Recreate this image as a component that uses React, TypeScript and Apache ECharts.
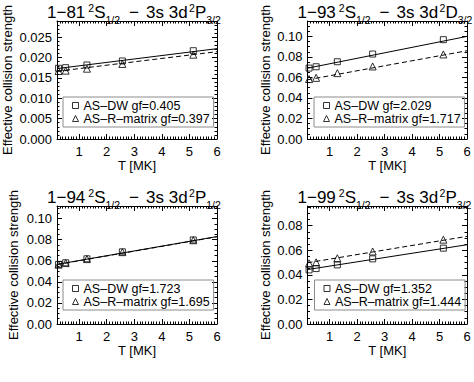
import React, { useEffect, useRef } from "react";
import * as echarts from "echarts";

// ---------- data ----------
const temps = [0.257, 0.514, 1.285, 2.57, 5.14]; // T [MK]
const fitT = [0.2, 6];
const xTicks = [1, 2, 3, 4, 5, 6];

const transitions = ["1−81", "1−93", "1−94", "1−99"];
const upperTerm = ["P", "D", "P", "P"];
const upperJ = ["3/2", "3/2", "1/2", "3/2"];

const dwGf = ["0.405", "2.029", "1.723", "1.352"];
const rmGf = ["0.397", "1.717", "1.695", "1.444"];

const dw81 = [0.01738, 0.01753, 0.01819, 0.01917, 0.0217];
const rm81 = [0.01672, 0.0168, 0.01728, 0.01844, 0.02072];
const dw93 = [0.0691, 0.0704, 0.0753, 0.0828, 0.0968];
const rm93 = [0.0584, 0.0596, 0.0642, 0.0707, 0.0824];
const dw94 = [0.0566, 0.0581, 0.0619, 0.0685, 0.0798];
const rm94 = [0.0563, 0.0578, 0.0616, 0.0682, 0.0795];
const dw99 = [0.044, 0.0451, 0.0481, 0.053, 0.0617];
const rm99 = [0.0494, 0.0502, 0.0535, 0.059, 0.0686];

const dwFit81 = [0.0173, 0.0222];
const rmFit81 = [0.01664, 0.02146];
const dwFit93 = [0.069, 0.1];
const rmFit93 = [0.0577, 0.086];
const dwFit94 = [0.0566, 0.083];
const rmFit94 = [0.0564, 0.0828];
const dwFit99 = [0.0443, 0.0645];
const rmFit99 = [0.0498, 0.0713];

const yTicks81 = [0, 0.005, 0.01, 0.015, 0.02, 0.025];
const yTicks93 = [0, 0.02, 0.04, 0.06, 0.08, 0.1];
const yTicks94 = [0, 0.02, 0.04, 0.06, 0.08, 0.1];
const yTicks99 = [0, 0.02, 0.04, 0.06, 0.08];

const yMax = [0.029, 0.115, 0.112, 0.096];
const yMinor = [0.001, 0.005, 0.005, 0.005];
const yDecimals = [3, 2, 2, 2];

const dwData = [dw81, dw93, dw94, dw99];
const rmData = [rm81, rm93, rm94, rm99];
const dwFits = [dwFit81, dwFit93, dwFit94, dwFit99];
const rmFits = [rmFit81, rmFit93, rmFit94, rmFit99];
const yTickSets = [yTicks81, yTicks93, yTicks94, yTicks99];

// ---------- layout ----------
const FONT = "Liberation Sans";
const GRIDS = [
  { left: 57, top: 21, width: 160, height: 118 },
  { left: 307.5, top: 21, width: 159.5, height: 118 },
  { left: 57, top: 206, width: 160, height: 118 },
  { left: 307.5, top: 206, width: 159.5, height: 118 },
];
const yNameGap = [43, 36, 37, 36];
const legendPos = [
  { left: 63, top: 97 },
  { left: 314, top: 97 },
  { left: 63, top: 280 },
  { left: 314.5, top: 280 },
];

const hollow = { color: "rgba(0,0,0,0)", borderColor: "#000", borderWidth: 1 };

function makeMeasurer() {
  const canvas = document.createElement("canvas");
  const ctx = canvas.getContext("2d");
  return (text: string, size: number) => {
    if (!ctx) return text.length * size * 0.55;
    ctx.font = `${size}px "${FONT}"`;
    return ctx.measureText(text).width;
  };
}

function buildTitle(i: number, measure: (t: string, s: number) => number) {
  const g = GRIDS[i];
  const cy = g.top - 8.8; // vertical centre of the main title line
  const MAIN = 17;
  const SMALL = 10.5;
  const parts: { t?: string; size?: number; dy?: number; gap?: number }[] = [
    { t: transitions[i], size: MAIN, dy: 0 },
    { gap: 3 },
    { t: "2", size: SMALL, dy: -4 },
    { t: "S", size: MAIN, dy: 0 },
    { t: "1/2", size: SMALL, dy: 8 },
    { gap: 9 },
    { t: "−", size: MAIN, dy: 0 },
    { gap: 7 },
    { t: "3s 3d", size: MAIN, dy: 0 },
    { gap: 1.5 },
    { t: "2", size: SMALL, dy: -4 },
    { t: upperTerm[i], size: MAIN, dy: 0 },
    { t: upperJ[i], size: SMALL, dy: 8 },
  ];
  let x = g.left - 10;
  const out: any[] = [];
  parts.forEach((p) => {
    if (p.gap !== undefined) {
      x += p.gap;
      return;
    }
    const w = measure(p.t as string, p.size as number);
    out.push({
      type: "text",
      x,
      y: cy + (p.dy as number),
      silent: true,
      style: {
        text: p.t,
        fill: "#000",
        fontSize: p.size,
        fontFamily: FONT,
        align: "left",
        verticalAlign: "middle",
      },
    });
    x += w;
  });
  return out;
}

function buildOption() {
  const measure = makeMeasurer();
  const xAxis: any[] = [];
  const yAxis: any[] = [];
  const series: any[] = [];
  const legend: any[] = [];
  const graphic: any[] = [];

  GRIDS.forEach((g, i) => {
    const line = { color: "#000", width: 1 };
    const xBase = { gridIndex: i, type: "value", min: 0.2, max: 6, splitLine: { show: false } };
    xAxis.push({
      ...xBase,
      position: "bottom",
      axisLine: { show: true, onZero: false, lineStyle: line },
      axisTick: { show: true, inside: true, length: 5, customValues: xTicks, lineStyle: line },
      axisLabel: { show: true, customValues: xTicks, color: "#000", fontSize: 13, fontFamily: FONT, margin: 6 },
      name: "T [MK]",
      nameLocation: "middle",
      nameGap: 20,
      nameTextStyle: { color: "#000", fontSize: 13, fontFamily: FONT },
    });
    xAxis.push({
      ...xBase,
      position: "bottom",
      interval: 0.1,
      axisLine: { show: false, onZero: false },
      axisTick: { show: true, inside: true, length: 2.5, lineStyle: line },
      axisLabel: { show: false },
    });
    xAxis.push({
      ...xBase,
      position: "top",
      axisLine: { show: true, onZero: false, lineStyle: line },
      axisTick: { show: true, inside: true, length: 5, customValues: xTicks, lineStyle: line },
      axisLabel: { show: false },
    });
    xAxis.push({
      ...xBase,
      position: "top",
      interval: 0.1,
      axisLine: { show: false, onZero: false },
      axisTick: { show: true, inside: true, length: 2.5, lineStyle: line },
      axisLabel: { show: false },
    });

    const ticks = yTickSets[i];
    const yBase = { gridIndex: i, type: "value", min: 0, max: yMax[i], splitLine: { show: false } };
    yAxis.push({
      ...yBase,
      position: "left",
      axisLine: { show: true, onZero: false, lineStyle: line },
      axisTick: { show: true, inside: true, length: 5, customValues: ticks, lineStyle: line },
      axisLabel: {
        show: true,
        customValues: ticks,
        color: "#000",
        fontSize: 13,
        fontFamily: FONT,
        margin: 5,
        formatter: (v: number) => v.toFixed(yDecimals[i]),
      },
      name: "Effective collision strength",
      nameLocation: "middle",
      nameGap: yNameGap[i],
      nameTextStyle: { color: "#000", fontSize: 13, fontFamily: FONT },
    });
    yAxis.push({
      ...yBase,
      position: "left",
      interval: yMinor[i],
      axisLine: { show: false, onZero: false },
      axisTick: { show: true, inside: true, length: 2.5, lineStyle: line },
      axisLabel: { show: false },
    });
    yAxis.push({
      ...yBase,
      position: "right",
      axisLine: { show: true, onZero: false, lineStyle: line },
      axisTick: { show: true, inside: true, length: 5, customValues: ticks, lineStyle: line },
      axisLabel: { show: false },
    });
    yAxis.push({
      ...yBase,
      position: "right",
      interval: yMinor[i],
      axisLine: { show: false, onZero: false },
      axisTick: { show: true, inside: true, length: 2.5, lineStyle: line },
      axisLabel: { show: false },
    });

    const dwName = `AS–DW gf=${dwGf[i]}`;
    const rmName = `AS–R–matrix gf=${rmGf[i]}`;
    const ax = i * 4;

    series.push({
      type: "line",
      xAxisIndex: ax,
      yAxisIndex: ax,
      data: fitT.map((t, k) => [t, dwFits[i][k]]),
      showSymbol: false,
      symbol: "none",
      lineStyle: { color: "#000", width: 1, type: "solid" },
      silent: true,
      z: 2,
    });
    series.push({
      type: "line",
      xAxisIndex: ax,
      yAxisIndex: ax,
      data: fitT.map((t, k) => [t, rmFits[i][k]]),
      showSymbol: false,
      symbol: "none",
      lineStyle: { color: "#000", width: 1, type: [5, 3] },
      silent: true,
      z: 2,
    });
    series.push({
      type: "scatter",
      name: dwName,
      xAxisIndex: ax,
      yAxisIndex: ax,
      data: temps.map((t, k) => [t, dwData[i][k]]),
      symbol: "rect",
      symbolSize: 6,
      itemStyle: hollow,
      z: 3,
    });
    series.push({
      type: "scatter",
      name: rmName,
      xAxisIndex: ax,
      yAxisIndex: ax,
      data: temps.map((t, k) => [t, rmData[i][k]]),
      symbol: "triangle",
      symbolSize: 7,
      itemStyle: hollow,
      z: 3,
    });

    legend.push({
      orient: "vertical",
      left: legendPos[i].left,
      top: legendPos[i].top,
      padding: [2, 4, 2, 9],
      itemGap: 0,
      itemWidth: 6,
      itemHeight: 6,
      selectedMode: false,
      borderColor: "#8c8c8c",
      borderWidth: 1,
      backgroundColor: "transparent",
      textStyle: { fontSize: 12.5, color: "#000", lineHeight: 13, fontFamily: FONT },
      data: [
        { name: dwName, icon: "rect", itemStyle: hollow },
        { name: rmName, icon: "triangle", itemStyle: hollow },
      ],
    });

    graphic.push(...buildTitle(i, measure));
  });

  return {
    animation: false,
    backgroundColor: "#fff",
    textStyle: { fontFamily: FONT },
    grid: GRIDS.map((g) => ({ ...g, containLabel: false })),
    xAxis,
    yAxis,
    series,
    legend,
    graphic,
  };
}

export default function App() {
  const ref = useRef<HTMLDivElement>(null);
  useEffect(() => {
    if (!ref.current) return;
    const chart = echarts.init(ref.current, undefined, { renderer: "svg" });
    chart.setOption(buildOption() as any);
    return () => chart.dispose();
  }, []);
  return (
    <div
      ref={ref}
      style={{ position: "absolute", left: 0, top: 0, width: 474, height: 382, background: "#fff" }}
    />
  );
}
